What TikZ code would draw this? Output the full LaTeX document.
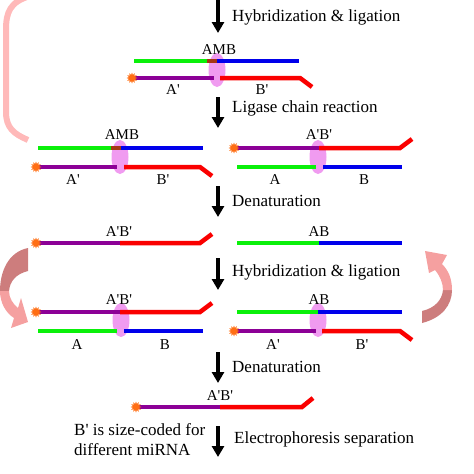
\documentclass[tikz,border=0pt]{standalone}
\usepackage{fontspec}
\setmainfont{Liberation Serif}
\usetikzlibrary{arrows.meta,shapes.geometric}

\definecolor{senseA}{RGB}{10,240,10}
\definecolor{senseB}{RGB}{0,0,235}
\definecolor{probeA}{RGB}{140,0,150}
\definecolor{probeB}{RGB}{250,0,0}
\definecolor{target}{RGB}{165,55,20}
\definecolor{ligase}{RGB}{240,155,240}
\definecolor{dye}{RGB}{255,110,20}
\definecolor{cycle}{RGB}{255,185,185}
\definecolor{turndark}{RGB}{205,125,125}
\definecolor{turnlight}{RGB}{245,160,160}

\begin{document}
\begin{tikzpicture}[x=1pt,y=-1pt,
  stepdown/.style={line width=3.5pt,-{Triangle[width=12pt,length=11pt]}},
  steptext/.style={anchor=west,inner sep=0pt,font=\fontsize{17}{20}\selectfont},
  lbl/.style={inner sep=0pt,font=\fontsize{15}{18}\selectfont},
  strand/.style={line width=4.5pt},
  tag/.style={star,star points=12,star point ratio=1.7,fill=dye,minimum size=11pt,inner sep=0pt},
  bubble/.style={ellipse,fill=ligase,minimum width=17pt,minimum height=34pt,inner sep=0pt}]

\useasboundingbox (0,0) rectangle (474,474);

% ligase bubbles
\node[bubble] (lig1)  at (217,70)  {};
\node[bubble] (lig2l) at (120,157) {};
\node[bubble] (lig2r) at (318,157) {};
\node[bubble] (lig4l) at (121,320) {};
\node[bubble] (lig4r) at (318,320) {};

% strands
\draw[strand,senseA] (134,61) -- (207,61);
\draw[strand,target] (207,61) -- (217,61);
\draw[strand,senseB] (217,61) -- (299,61);
\draw[strand,probeA] (134,78) -- (214,78);
\draw[strand,probeB] (220,78) -- (300,78) -- (312,87);

\draw[strand,senseA] (38,148) -- (111,148);
\draw[strand,target] (111,148) -- (121,148);
\draw[strand,senseB] (121,148) -- (203,148);
\draw[strand,probeA] (38,167) -- (117,167);
\draw[strand,probeB] (124,167) -- (200,167) -- (212,176);

\draw[strand,probeA] (236,148) -- (319,148);
\draw[strand,probeB] (319,148) -- (400,148) -- (412,139);
\draw[strand,senseA] (237,167) -- (316,167);
\draw[strand,senseB] (323,167) -- (402,167);

\draw[strand,probeA] (38,243) -- (120,243);
\draw[strand,probeB] (120,243) -- (200,243) -- (212,234);
\draw[strand,senseA] (237,243) -- (319,243);
\draw[strand,senseB] (319,243) -- (402,243);

\draw[strand,probeA] (38,312) -- (120,312);
\draw[strand,probeB] (120,312) -- (200,312) -- (212,303);
\draw[strand,senseA] (38,331) -- (117,331);
\draw[strand,senseB] (124,331) -- (203,331);

\draw[strand,senseA] (237,312) -- (318,312);
\draw[strand,senseB] (318,312) -- (402,312);
\draw[strand,probeA] (237,331) -- (316,331);
\draw[strand,probeB] (322,331) -- (400,331) -- (412,340);

\draw[strand,probeA] (137,407) -- (220,407);
\draw[strand,probeB] (220,407) -- (302,407) -- (313,398);

\foreach \x/\y [count=\i] in {132/78,36/167,234/148,36/243,36/312,234/331,136/407}
  \node[tag] (dye\i) at (\x,\y) {};

% labels
\node[lbl] (amb1)  at (219,50)  {AMB};
\node[lbl] (pa1)   at (173,90)  {A\textquotesingle};
\node[lbl] (pb1)   at (262,90)  {B\textquotesingle};
\node[lbl] (amb2)  at (122,135) {AMB};
\node[lbl] (pa2)   at (73,180)  {A\textquotesingle};
\node[lbl] (pb2)   at (163,180) {B\textquotesingle};
\node[lbl] (pab2)  at (319,135) {A\textquotesingle B\textquotesingle};
\node[lbl] (sa2)   at (275,180) {A};
\node[lbl] (sb2)   at (364,180) {B};
\node[lbl] (pab3)  at (119,232) {A\textquotesingle B\textquotesingle};
\node[lbl] (sab3)  at (319,232) {AB};
\node[lbl] (pab4)  at (119,300) {A\textquotesingle B\textquotesingle};
\node[lbl] (sa4)   at (77,345)  {A};
\node[lbl] (sb4)   at (165,345) {B};
\node[lbl] (sab4)  at (319,300) {AB};
\node[lbl] (pa4)   at (273,345) {A\textquotesingle};
\node[lbl] (pb4)   at (362,345) {B\textquotesingle};
\node[lbl] (pab5)  at (220,396) {A\textquotesingle B\textquotesingle};

% steps
\coordinate (s1) at (218,0);   \coordinate (e1) at (218,33);
\coordinate (s2) at (218,97);  \coordinate (e2) at (218,128);
\coordinate (s3) at (218,186); \coordinate (e3) at (218,217);
\coordinate (s4) at (218,258); \coordinate (e4) at (218,290);
\coordinate (s5) at (218,352); \coordinate (e5) at (218,383);
\coordinate (s6) at (218,426); \coordinate (e6) at (218,457);
\draw[stepdown] (s1) -- (e1);
\draw[stepdown] (s2) -- (e2);
\draw[stepdown] (s3) -- (e3);
\draw[stepdown] (s4) -- (e4);
\draw[stepdown] (s5) -- (e5);
\draw[stepdown] (s6) -- (e6);
\node[steptext] (hyb1) at (232,17)  {Hybridization \& ligation};
\node[steptext] (lcr)  at (232,108) {Ligase chain reaction};
\node[steptext] (den1) at (232,201) {Denaturation};
\node[steptext] (hyb2) at (232,272) {Hybridization \& ligation};
\node[steptext] (den2) at (232,367) {Denaturation};
\node[steptext] (ele)  at (234,439) {Electrophoresis separation};
\node[steptext,align=left] (note) at (74,440) {B\textquotesingle{} is size-coded for\\different miRNA};

% cycling arrows
\draw[cycle,line width=6pt] (30,-4) .. controls (10,2) and (6,12) .. (6,30) -- (6,112)
  .. controls (6,128) and (14,134) .. (28,140);
\fill[turndark] (28,248) .. controls (8,252) and (0,272) .. (0,291) -- (9,291)
  .. controls (10,281) and (16,274) .. (28,271) -- cycle;
\fill[turnlight] (0,291) .. controls (0,303) and (6,313) .. (14,318) -- (11,328) -- (28,322)
  -- (21,298) -- (18,308) .. controls (13,304) and (9,298) .. (9,291) -- cycle;
\fill[turndark] (422,323) .. controls (442,318) and (452,305) .. (452,290) -- (443,290)
  .. controls (442,300) and (435,308) .. (422,311) -- cycle;
\fill[turnlight] (452,290) .. controls (452,278) and (448,270) .. (442,264) -- (447,255)
  -- (425,251) -- (429,273) -- (435,270) .. controls (440,276) and (443,283) .. (443,290) -- cycle;

\end{tikzpicture}
\end{document}
